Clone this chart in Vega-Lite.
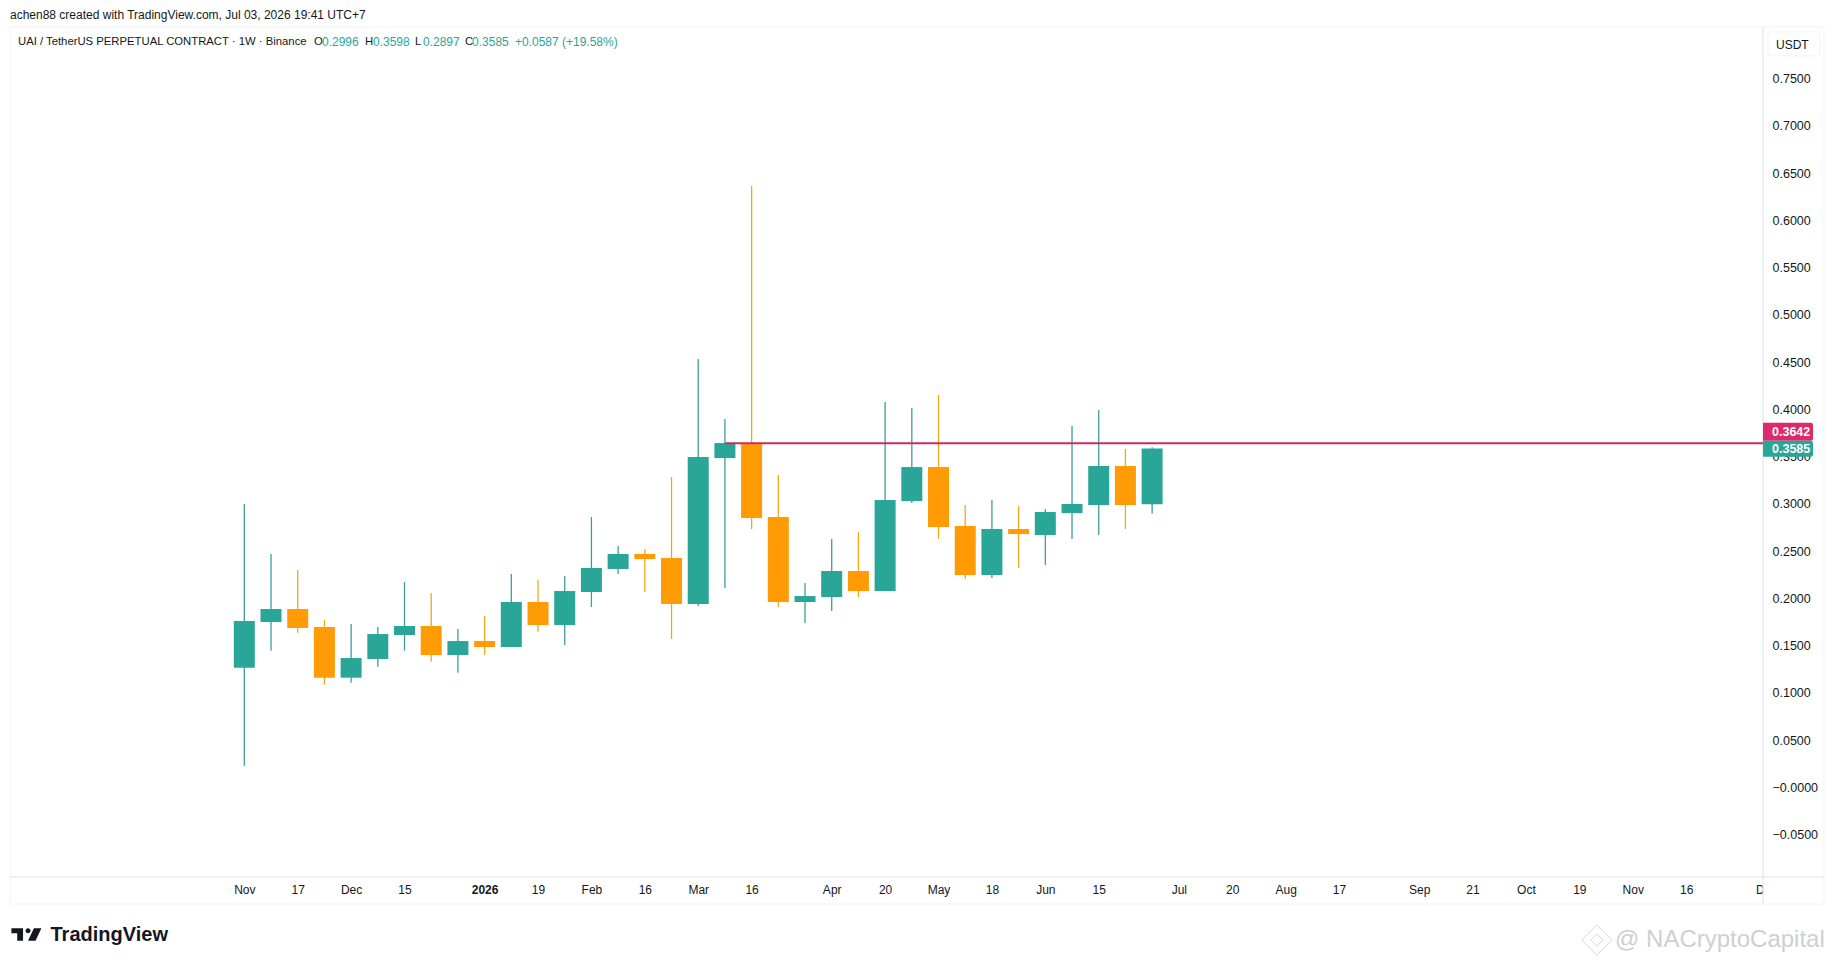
{
  "$schema": "https://vega.github.io/schema/vega-lite/v6.json",
  "width": 1835,
  "height": 965,
  "padding": 0,
  "autosize": {"type": "none"},
  "background": "#ffffff",
  "config": {
    "view": {"stroke": null},
    "font": "Liberation Sans",
    "text": {"font": "Liberation Sans"}
  },
  "encoding": {
    "x": {
      "field": "date",
      "type": "temporal",
      "title": null,
      "scale": {"type": "utc", "domain": ["2025-08-30T22:48:00Z", "2026-12-25T00:43:00Z"], "nice": false, "padding": 0},
      "axis": {
        "orient": "bottom",
        "offset": -88,
        "domain": false,
        "ticks": false,
        "grid": false,
        "labelFont": "Liberation Sans",
        "labelFontSize": 12,
        "labelColor": "#131722",
        "labelPadding": 7,
        "labelBound": false,
        "labelFlush": false,
        "labelOverlap": false,
        "values": ["2025-11-03T00:00:00Z", "2025-11-17T00:00:00Z", "2025-12-01T00:00:00Z", "2025-12-15T00:00:00Z", "2026-01-05T00:00:00Z", "2026-01-19T00:00:00Z", "2026-02-02T00:00:00Z", "2026-02-16T00:00:00Z", "2026-03-02T00:00:00Z", "2026-03-16T00:00:00Z", "2026-04-06T00:00:00Z", "2026-04-20T00:00:00Z", "2026-05-04T00:00:00Z", "2026-05-18T00:00:00Z", "2026-06-01T00:00:00Z", "2026-06-15T00:00:00Z", "2026-07-06T00:00:00Z", "2026-07-20T00:00:00Z", "2026-08-03T00:00:00Z", "2026-08-17T00:00:00Z", "2026-09-07T00:00:00Z", "2026-09-21T00:00:00Z", "2026-10-05T00:00:00Z", "2026-10-19T00:00:00Z", "2026-11-02T00:00:00Z", "2026-11-16T00:00:00Z", "2026-12-07T00:00:00Z"],
        "labelExpr": "utcdate(datum.value) > 7 ? utcFormat(datum.value, '%-d') : utcmonth(datum.value) == 0 ? utcFormat(datum.value, '%Y') : utcFormat(datum.value, '%b')",
        "labelFontWeight": {"expr": "utcmonth(datum.value) == 0 && utcdate(datum.value) <= 7 ? 'bold' : 'normal'"}
      }
    }
  },
  "layer": [
    {
      "data": {"values": [{"date": "2026-12-06T04:30:00Z", "date2": "2026-12-22T03:36:00Z", "price": -0.0957, "price2": -0.1228}]},
      "mark": {"type": "rect", "fill": "#ffffff"},
      "encoding": {
        "x2": {"field": "date2"},
        "y": {
          "field": "price",
          "type": "quantitative",
          "title": null,
          "scale": {"domain": [-0.188, 0.8331], "nice": false, "zero": false},
          "axis": {
            "orient": "right",
            "offset": -72,
            "domain": false,
            "ticks": false,
            "grid": false,
            "labelFont": "Liberation Sans",
            "labelFontSize": 12.5,
            "labelColor": "#131722",
            "labelPadding": 9,
            "labelAlign": "left",
            "labelBound": false,
            "labelFlush": false,
            "labelOverlap": false,
            "values": [-0.05, 0, 0.05, 0.1, 0.15, 0.2, 0.25, 0.3, 0.35, 0.4, 0.45, 0.5, 0.55, 0.6, 0.65, 0.7, 0.75],
            "labelExpr": "datum.value <= 0 ? '\u2212' + format(abs(datum.value), '.4f') : format(datum.value, '.4f')"
          }
        },
        "y2": {"field": "price2"}
      }
    },
    {
      "data": {"values": [
        {"edge": "outer", "date": "2025-09-02T13:42:00Z", "date2": "2026-12-22T03:36:00Z", "price": 0.8045, "price2": 0.8045},
        {"edge": "outer", "date": "2025-09-02T13:42:00Z", "date2": "2026-12-22T03:36:00Z", "price": -0.1235, "price2": -0.1235},
        {"edge": "outer", "date": "2025-09-02T13:42:00Z", "date2": "2025-09-02T13:42:00Z", "price": 0.8045, "price2": -0.1235},
        {"edge": "outer", "date": "2026-12-22T03:36:00Z", "date2": "2026-12-22T03:36:00Z", "price": 0.8045, "price2": -0.1235},
        {"edge": "inner", "date": "2025-09-02T13:42:00Z", "date2": "2026-12-22T03:36:00Z", "price": -0.0949, "price2": -0.0949},
        {"edge": "inner", "date": "2026-12-06T03:50:00Z", "date2": "2026-12-06T03:50:00Z", "price": 0.8045, "price2": -0.1235}
      ]},
      "mark": {"type": "rule", "strokeWidth": 1},
      "encoding": {
        "x2": {"field": "date2"},
        "y": {"field": "price", "type": "quantitative"},
        "y2": {"field": "price2"},
        "color": {"condition": {"test": "datum.edge == 'inner'", "value": "#e0e3eb"}, "value": "#f0f3fa"}
      }
    },
    {
      "data": {"name": "candles", "values": [
        {"date": "2025-11-03T00:00:00Z", "open": 0.1266, "high": 0.2998, "low": 0.0229, "close": 0.1760},
        {"date": "2025-11-10T00:00:00Z", "open": 0.1749, "high": 0.2469, "low": 0.1446, "close": 0.1887},
        {"date": "2025-11-17T00:00:00Z", "open": 0.1887, "high": 0.2299, "low": 0.1636, "close": 0.1686},
        {"date": "2025-11-24T00:00:00Z", "open": 0.1696, "high": 0.1770, "low": 0.1086, "close": 0.1160},
        {"date": "2025-12-01T00:00:00Z", "open": 0.1160, "high": 0.1728, "low": 0.1107, "close": 0.1368},
        {"date": "2025-12-08T00:00:00Z", "open": 0.1358, "high": 0.1696, "low": 0.1276, "close": 0.1622},
        {"date": "2025-12-15T00:00:00Z", "open": 0.1612, "high": 0.2172, "low": 0.1446, "close": 0.1707},
        {"date": "2025-12-22T00:00:00Z", "open": 0.1707, "high": 0.2056, "low": 0.1329, "close": 0.1400},
        {"date": "2025-12-29T00:00:00Z", "open": 0.1400, "high": 0.1675, "low": 0.1213, "close": 0.1548},
        {"date": "2026-01-05T00:00:00Z", "open": 0.1548, "high": 0.1813, "low": 0.1400, "close": 0.1485},
        {"date": "2026-01-12T00:00:00Z", "open": 0.1485, "high": 0.2257, "low": 0.1485, "close": 0.1961},
        {"date": "2026-01-19T00:00:00Z", "open": 0.1961, "high": 0.2194, "low": 0.1647, "close": 0.1717},
        {"date": "2026-01-26T00:00:00Z", "open": 0.1717, "high": 0.2236, "low": 0.1506, "close": 0.2077},
        {"date": "2026-02-02T00:00:00Z", "open": 0.2067, "high": 0.2860, "low": 0.1908, "close": 0.2321},
        {"date": "2026-02-09T00:00:00Z", "open": 0.2310, "high": 0.2553, "low": 0.2257, "close": 0.2469},
        {"date": "2026-02-16T00:00:00Z", "open": 0.2469, "high": 0.2522, "low": 0.2067, "close": 0.2416},
        {"date": "2026-02-23T00:00:00Z", "open": 0.2426, "high": 0.3284, "low": 0.1569, "close": 0.1940},
        {"date": "2026-03-02T00:00:00Z", "open": 0.1939, "high": 0.4532, "low": 0.1918, "close": 0.3495},
        {"date": "2026-03-09T00:00:00Z", "open": 0.3484, "high": 0.3897, "low": 0.2109, "close": 0.3643},
        {"date": "2026-03-16T00:00:00Z", "open": 0.3643, "high": 0.6363, "low": 0.2733, "close": 0.2849},
        {"date": "2026-03-23T00:00:00Z", "open": 0.2860, "high": 0.3304, "low": 0.1908, "close": 0.1961},
        {"date": "2026-03-30T00:00:00Z", "open": 0.1961, "high": 0.2162, "low": 0.1738, "close": 0.2024},
        {"date": "2026-04-06T00:00:00Z", "open": 0.2013, "high": 0.2627, "low": 0.1865, "close": 0.2289},
        {"date": "2026-04-13T00:00:00Z", "open": 0.2289, "high": 0.2701, "low": 0.2013, "close": 0.2077},
        {"date": "2026-04-20T00:00:00Z", "open": 0.2077, "high": 0.4077, "low": 0.2077, "close": 0.3040},
        {"date": "2026-04-27T00:00:00Z", "open": 0.3029, "high": 0.4013, "low": 0.3008, "close": 0.3389},
        {"date": "2026-05-04T00:00:00Z", "open": 0.3389, "high": 0.4151, "low": 0.2627, "close": 0.2754},
        {"date": "2026-05-11T00:00:00Z", "open": 0.2765, "high": 0.2987, "low": 0.2204, "close": 0.2246},
        {"date": "2026-05-18T00:00:00Z", "open": 0.2246, "high": 0.3040, "low": 0.2215, "close": 0.2733},
        {"date": "2026-05-25T00:00:00Z", "open": 0.2733, "high": 0.2976, "low": 0.2320, "close": 0.2680},
        {"date": "2026-06-01T00:00:00Z", "open": 0.2670, "high": 0.2945, "low": 0.2352, "close": 0.2913},
        {"date": "2026-06-08T00:00:00Z", "open": 0.2902, "high": 0.3823, "low": 0.2627, "close": 0.2998},
        {"date": "2026-06-15T00:00:00Z", "open": 0.2987, "high": 0.3992, "low": 0.2670, "close": 0.3400},
        {"date": "2026-06-22T00:00:00Z", "open": 0.3400, "high": 0.3580, "low": 0.2733, "close": 0.2987},
        {"date": "2026-06-29T00:00:00Z", "open": 0.2996, "high": 0.3598, "low": 0.2897, "close": 0.3585}
      ]},
      "mark": {"type": "rule", "strokeWidth": 1.3},
      "encoding": {
        "y": {"field": "high", "type": "quantitative"},
        "y2": {"field": "low"},
        "color": {"condition": {"test": "datum.close >= datum.open", "value": "#3d9ca0"}, "value": "#f0a818"}
      }
    },
    {
      "data": {"name": "candles"},
      "mark": {"type": "bar", "size": 21},
      "encoding": {
        "y": {"field": "open", "type": "quantitative"},
        "y2": {"field": "close"},
        "color": {"condition": {"test": "datum.close >= datum.open", "value": "#2aa698"}, "value": "#ff9b05"}
      }
    },
    {
      "data": {"values": [{"date": "2026-03-09T00:00:00Z", "date2": "2026-12-06T03:50:00Z", "price": 0.3642}]},
      "mark": {"type": "rule", "strokeWidth": 2, "color": "#c92c60"},
      "encoding": {
        "x2": {"field": "date2"},
        "y": {"field": "price", "type": "quantitative"}
      }
    },
    {
      "data": {"values": [
        {"tag": "level", "date": "2026-12-06T03:50:00Z", "date2": "2026-12-19T06:14:00Z", "price": 0.3858, "price2": 0.3668},
        {"tag": "last", "date": "2026-12-06T03:50:00Z", "date2": "2026-12-19T06:14:00Z", "price": 0.3668, "price2": 0.3498}
      ]},
      "mark": {"type": "rect", "cornerRadiusTopRight": 2, "cornerRadiusBottomRight": 2},
      "encoding": {
        "x2": {"field": "date2"},
        "y": {"field": "price", "type": "quantitative"},
        "y2": {"field": "price2"},
        "color": {"condition": {"test": "datum.tag == 'level'", "value": "#dc2a6c"}, "value": "#2aa698"}
      }
    },
    {
      "data": {"values": [{"date": "2026-12-07T11:17:00Z", "date2": "2026-12-21T02:24:00Z", "price": 0.7993, "price2": 0.7739}]},
      "mark": {"type": "rect", "fill": "#ffffff", "stroke": "#f0f3fa", "cornerRadius": 3},
      "encoding": {
        "x2": {"field": "date2"},
        "y": {"field": "price", "type": "quantitative"},
        "y2": {"field": "price2"}
      }
    },
    {
      "data": {"values": [
        {"date": "2026-12-08T12:29:00Z", "price": 0.3763, "label": "0.3642"},
        {"date": "2026-12-08T12:29:00Z", "price": 0.3585, "label": "0.3585"}
      ]},
      "mark": {"type": "text", "align": "left", "baseline": "middle", "fontSize": 12.5, "fontWeight": "bold", "color": "#ffffff"},
      "encoding": {
        "y": {"field": "price", "type": "quantitative"},
        "text": {"field": "label"}
      }
    },
    {
      "data": {"values": [
        {"date": "2025-09-02T13:42:00Z", "price": 0.8172, "label": "achen88 created with TradingView.com, Jul 03, 2026 19:41 UTC+7"},
        {"date": "2026-12-09T13:41:00Z", "price": 0.7855, "label": "USDT"}
      ]},
      "mark": {"type": "text", "align": "left", "baseline": "middle", "fontSize": 12, "color": "#131722"},
      "encoding": {
        "y": {"field": "price", "type": "quantitative"},
        "text": {"field": "label"}
      }
    },
    {
      "data": {"values": [
        {"date": "2025-09-04T16:04:00Z", "price": 0.7887, "label": "UAI / TetherUS PERPETUAL CONTRACT \u00b7 1W \u00b7 Binance"},
        {"date": "2025-11-21T06:29:00Z", "price": 0.7887, "label": "O"},
        {"date": "2025-12-04T15:22:00Z", "price": 0.7887, "label": "H"},
        {"date": "2025-12-17T18:00:00Z", "price": 0.7887, "label": "L"},
        {"date": "2025-12-30T20:40:00Z", "price": 0.7887, "label": "C"}
      ]},
      "mark": {"type": "text", "align": "left", "baseline": "middle", "fontSize": 11.3, "color": "#131722"},
      "encoding": {
        "y": {"field": "price", "type": "quantitative"},
        "text": {"field": "label"}
      }
    },
    {
      "data": {"values": [
        {"date": "2025-11-23T08:53:00Z", "price": 0.7887, "label": "0.2996"},
        {"date": "2025-12-06T17:46:00Z", "price": 0.7887, "label": "0.3598"},
        {"date": "2025-12-19T20:24:00Z", "price": 0.7887, "label": "0.2897"},
        {"date": "2026-01-01T16:48:00Z", "price": 0.7887, "label": "0.3585"},
        {"date": "2026-01-12T23:00:00Z", "price": 0.7887, "label": "+0.0587 (+19.58%)"}
      ]},
      "mark": {"type": "text", "align": "left", "baseline": "middle", "fontSize": 12, "color": "#2aa698"},
      "encoding": {
        "y": {"field": "price", "type": "quantitative"},
        "text": {"field": "label"}
      }
    },
    {
      "data": {"values": [{"date": "2025-09-06T20:50:00Z", "price": -0.1558}]},
      "mark": {"type": "point", "filled": true, "size": 900, "opacity": 1, "color": "#131722", "shape": "M-1,-.417L-.222,-.417L-.222,.417L-.611,.417L-.611,-.083L-1,-.083Z M-.056,-.25A.167,.167,0,1,0,.278,-.25A.167,.167,0,1,0,-.056,-.25Z M.5,-.417L1,-.417L.611,.417L.111,.417Z"},
      "encoding": {
        "y": {"field": "price", "type": "quantitative"}
      }
    },
    {
      "data": {"values": [{"date": "2025-09-13T04:34:00Z", "price": -0.1563, "label": "TradingView"}]},
      "mark": {"type": "text", "align": "left", "baseline": "middle", "fontSize": 20, "fontWeight": "bold", "color": "#131722"},
      "encoding": {
        "y": {"field": "price", "type": "quantitative"},
        "text": {"field": "label"}
      }
    },
    {
      "data": {"values": [{"date": "2026-10-23T14:24:00Z", "price": -0.1616}]},
      "mark": {"type": "point", "filled": false, "size": 900, "opacity": 1, "strokeWidth": 1, "color": "#d8d8d8", "shape": "M0,-1L1,0L0,1L-1,0Z M0,-.4L.4,0L0,.4L-.4,0Z"},
      "encoding": {
        "y": {"field": "price", "type": "quantitative"}
      }
    },
    {
      "data": {"values": [{"date": "2026-10-28T08:38:00Z", "price": -0.1616, "label": "@ NACryptoCapital"}]},
      "mark": {"type": "text", "align": "left", "baseline": "middle", "fontSize": 24, "color": "#cfcfcf"},
      "encoding": {
        "y": {"field": "price", "type": "quantitative"},
        "text": {"field": "label"}
      }
    }
  ]
}
